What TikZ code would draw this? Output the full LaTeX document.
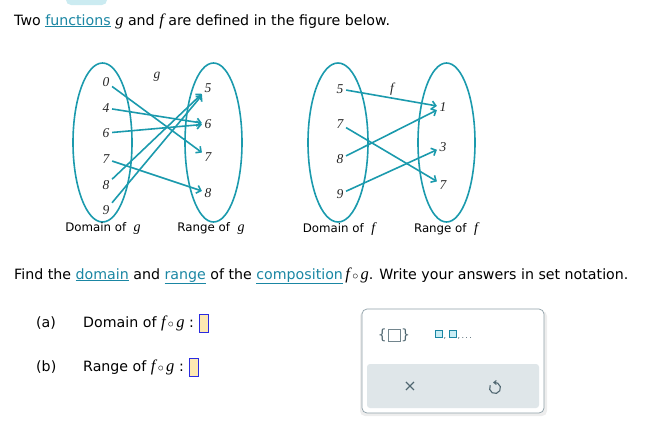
\documentclass[tikz,border=0pt]{standalone}
\usepackage{fontspec}
\setmainfont{DejaVu Sans}
\newfontfamily\numfont{Liberation Serif}
\usetikzlibrary{shapes.geometric,arrows.meta,positioning}
\definecolor{setteal}{HTML}{1B9AAD}
\definecolor{linkteal}{HTML}{1A86A3}
\definecolor{tabblue}{HTML}{CBEBF1}
\definecolor{boxblue}{HTML}{2B2BE0}
\definecolor{boxyellow}{HTML}{FDE9B3}
\definecolor{panelgray}{HTML}{8FA0A8}
\definecolor{btngray}{HTML}{DFE6E9}
\definecolor{icongray}{HTML}{4F6670}
\definecolor{iconfill}{HTML}{C9EDF4}
\newcommand{\fvar}[1]{{\numfont\itshape\fontsize{16.5}{17}\selectfont #1}}
\newcommand{\cvar}[1]{{\numfont\itshape\fontsize{14}{15}\selectfont #1}}
\newcommand{\lnk}[1]{\textcolor{linkteal}{\underline{#1}}}
\newcommand{\fog}{\fvar{f}\,{\fontsize{12}{12}\selectfont$\circ$}\,\fvar{g}}

\begin{document}
\begin{tikzpicture}[
    x=1pt, y=-1pt,
    oval/.style={ellipse, draw=setteal, line width=1.6pt, minimum width=59pt, minimum height=159pt},
    num/.style={font=\numfont\itshape\fontsize{13.5}{14}\selectfont, inner sep=2.5pt, text=black!85},
    maparrow/.style={-{Straight Barb[length=4pt,width=8pt,line width=1.6pt]}, draw=setteal, line width=1.6pt},
    caption/.style={font=\fontsize{11.8}{14}\selectfont, inner sep=0pt},
    body/.style={font=\fontsize{14.2}{17}\selectfont, anchor=base west, inner sep=0pt},
    ansbox/.style={draw=boxblue, fill=boxyellow, line width=0.8pt, minimum width=9pt, minimum height=18pt, inner sep=0pt},
    sqicon/.style={draw=linkteal, fill=iconfill, line width=0.9pt, minimum size=7.5pt, inner sep=0pt}
]

\useasboundingbox (0,0) rectangle (671,439);

% Tab at the top
\fill[tabblue, rounded corners=5pt] (66,-8) rectangle (107,5);

% Intro line
\node[body] (intro) at (14,25) {Two \lnk{functions} \fvar{g} and \fvar{f} are defined in the figure below.};

% Function g
\node[oval] (gDom) at (102.5,142.5) {};
\node[oval, minimum width=57pt] (gRan) at (213.5,142.5) {};
\node[num] (gd0) at (106,82) {0};
\node[num] (gd4) at (106,108) {4};
\node[num] (gd6) at (106,133) {6};
\node[num] (gd7) at (106,159) {7};
\node[num] (gd8) at (106,185) {8};
\node[num] (gd9) at (106,210) {9};
\node[num] (gr5) at (208,88) {5};
\node[num] (gr6) at (208,124) {6};
\node[num] (gr7) at (208,157) {7};
\node[num] (gr8) at (208,193) {8};
\node[num] (gName) at (157,77) {g};
\node[caption] (gDomCap) at (103,229) {Domain of \ \cvar{g}};
\node[caption] (gRanCap) at (211,229) {Range of \ \cvar{g}};

% Arrows of g
\draw[maparrow] (gd0) -- (gr7);
\draw[maparrow] (gd4) -- (gr6);
\draw[maparrow] (gd6) -- (gr6);
\draw[maparrow] (gd7) -- (gr8);
\draw[maparrow] (gd8) -- (gr5);
\draw[maparrow] (gd9) -- (gr5);

% Function f
\node[oval, minimum width=60pt] (fDom) at (338,142.5) {};
\node[oval, minimum width=57pt] (fRan) at (446.5,142.5) {};
\node[num] (fd5) at (340,89) {5};
\node[num] (fd7) at (340,124) {7};
\node[num] (fd8) at (340,159) {8};
\node[num] (fd9) at (340,194) {9};
\node[num] (fr1) at (443,107) {1};
\node[num] (fr3) at (443,147) {3};
\node[num] (fr7) at (443,185) {7};
\node[num] (fName) at (392,89) {f};
\node[caption] (fDomCap) at (339,229) {Domain of \ \cvar{f}};
\node[caption] (fRanCap) at (446,229) {Range of \ \cvar{f}};

% Arrows of f
\draw[maparrow] (fd5) -- (fr1);
\draw[maparrow] (fd7) -- (fr7);
\draw[maparrow] (fd8) -- (fr1);
\draw[maparrow] (fd9) -- (fr3);

% Question
\node[body] (task) at (14,279) {Find the \lnk{domain} and \lnk{range} of the \lnk{composition}\,\fog. Write your answers in set notation.};
\node[body] (partA) at (36,327) {(a)};
\node[body] (domA) at (83,327) {Domain of \fog\ :};
\node[ansbox, right=5pt of domA] (boxA) {};
\node[body] (partB) at (36,371) {(b)};
\node[body] (ranB) at (83,371) {Range of \fog\ :};
\node[ansbox, right=5pt of ranB] (boxB) {};

% Answer panel
\fill[black!7, rounded corners=5pt] (360,311) rectangle (547,416);
\draw[panelgray, fill=white, line width=0.7pt, rounded corners=5pt] (362,309) rectangle (544,413);
\fill[btngray, rounded corners=3pt] (367,364) rectangle (539,408);

% Set brace icon
\node[draw=icongray!80, fill=white, line width=1pt, minimum size=12pt, inner sep=0pt] (setSq) at (394,335) {};
\node[font=\fontsize{14}{14}\selectfont, text=icongray, left=0pt of setSq, inner sep=0.5pt] (braceL) {\{};
\node[font=\fontsize{14}{14}\selectfont, text=icongray, right=0pt of setSq, inner sep=0.5pt] (braceR) {\}};

% List icon
\node[sqicon] (sqA) at (439,334) {};
\node[sqicon] (sqB) at (453,334) {};
\node[font=\fontsize{8}{8}\selectfont, text=icongray, anchor=base west, inner sep=0pt] (dots) at (457.5,338) {,\,.\,.\,.};
\node[font=\fontsize{8}{8}\selectfont, text=icongray, anchor=base west, inner sep=0pt] (comma) at (443.5,338) {,};

% Clear and undo
\node[font=\fontsize{16}{16}\selectfont, text=icongray] (clearBtn) at (410,387) {×};
\coordinate (undoC) at (495,388);
\draw[icongray, line width=1.1pt, -{Straight Barb[length=2.5pt,width=4pt]}] ([shift={(210:5.5)}]undoC) arc (210:-90:5.5) -- ++(-2,0);

\end{tikzpicture}
\end{document}
